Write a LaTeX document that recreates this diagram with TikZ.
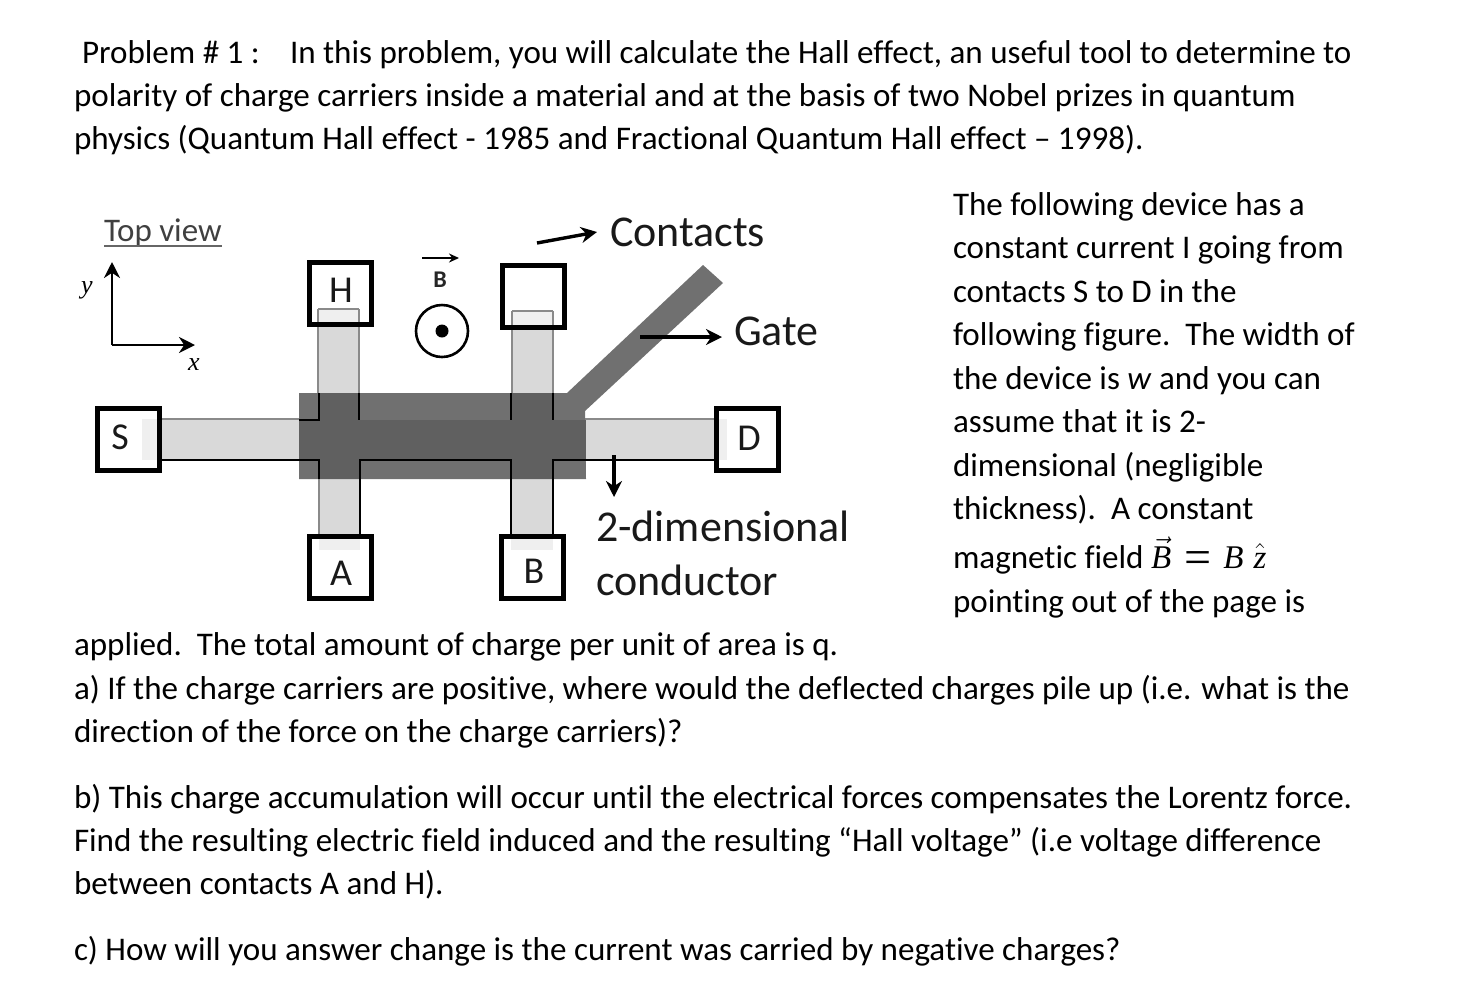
\documentclass[tikz,border=0pt]{standalone}
\usepackage{fontspec}
\setmainfont{Carlito}[Ligatures=NoCommon]
\newfontfamily\serifit{Liberation Serif}
\definecolor{armgray}{HTML}{D9D9D9}
\definecolor{fadegray}{HTML}{EFEFEF}
\definecolor{gategray}{HTML}{707070}
\definecolor{overlap}{HTML}{606060}
\definecolor{edgegray}{HTML}{8A8A8A}
\usetikzlibrary{arrows.meta}
\tikzset{
 txt/.style={anchor=base west,inner sep=0pt,outer sep=0pt,text=black,font=\fontsize{16.53}{18}\selectfont},
 fig/.style={anchor=base west,inner sep=0pt,outer sep=0pt,text=black!90},
 contact/.style={draw=black,line width=2.5pt,fill=none,minimum width=31pt,minimum height=31pt,inner sep=0pt,outer sep=0pt},
 letter/.style={inner sep=0pt,outer sep=0pt,text=black!90,font=\fontsize{19}{22}\selectfont},
 arr/.style={draw=black,line width=1.7pt,-{Stealth[length=8pt,width=8pt]}},
 edge/.style={draw=black,line width=0.7pt},
 soft/.style={draw=edgegray,line width=0.6pt}
}
\newcommand{\tl}[4]{\node[txt] (#1) at (#2,#3) {#4};}
\newcommand{\si}[1]{\mbox{\serifit\itshape #1}}
\begin{document}
\begin{tikzpicture}[x=0.5pt,y=-0.5pt]
\useasboundingbox (0,0) rectangle (1466,986);
% text
\tl{t1a}{82}{63}{Problem \# 1 :}
\tl{t1b}{290}{63}{In this problem, you will calculate the Hall effect, an useful tool to determine to}
\tl{t2}{74}{106}{polarity of charge carriers inside a material and at the basis of two Nobel prizes in quantum}
\tl{t3}{74}{149}{physics (Quantum Hall effect - 1985 and Fractional Quantum Hall effect – 1998).}
\tl{r1}{953}{215}{The following device has a}
\tl{r2}{953}{258}{constant current I going from}
\tl{r3}{953}{302}{contacts S to D in the}
\tl{r4}{953}{345}{following figure.\ \ The width of}
\tl{r5}{953}{389}{the device is \textit{w} and you can}
\tl{r6}{953}{432}{assume that it is 2-}
\tl{r7}{953}{476}{dimensional (negligible}
\tl{r8}{953}{519}{thickness).\ \ A constant}
\tl{r9}{953}{568}{magnetic field $\vec{\si{B}}$\hspace{6.5pt}\raisebox{-2.5pt}{\fontsize{24}{24}\selectfont\serifit =}\hspace{6pt}$\si{B}$\hspace{5pt}$\hat{\si{z}}$}
\tl{r10}{953}{612}{pointing out of the page is}
\tl{l1}{74}{655}{applied.\ \ The total amount of charge per unit of area is q.}
\tl{l2}{74}{699}{a) If the charge carriers are positive, where would the deflected charges pile up (i.e. what is the}
\tl{l3}{74}{742}{direction of the force on the charge carriers)?}
\tl{l4}{74}{808}{b) This charge accumulation will occur until the electrical forces compensates the Lorentz force.}
\tl{l5}{74}{851}{Find the resulting electric field induced and the resulting “Hall voltage” (i.e voltage difference}
\tl{l6}{74}{894}{between contacts A and H).}
\tl{l7}{74}{960}{c) How will you answer change is the current was carried by negative charges?}
% conductor
\fill[armgray] (142,419) rectangle (727,460);
\fill[armgray] (318,309) rectangle (359,393);
\fill[armgray] (512,311) rectangle (553,393);
\fill[armgray] (319,479) rectangle (360,550);
\fill[armgray] (511,479) rectangle (553,550);
\fill[fadegray] (142,419) rectangle (160,460);
\fill[fadegray] (715,419) rectangle (727,460);
\fill[fadegray] (318,309) rectangle (359,325);
\fill[fadegray] (512,311) rectangle (553,327);
\fill[fadegray] (319,536) rectangle (360,550);
\fill[fadegray] (511,536) rectangle (553,550);
\draw[soft] (160,419) -- (715,419);
\draw[soft] (318,309) -- (359,309) (318,309) -- (318,393) (359,309) -- (359,393);
\draw[soft] (512,311) -- (553,311) (512,311) -- (512,393) (553,311) -- (553,393);
% gate
\fill[gategray] (299,393) -- (567,393) -- (703,265) -- (723,283) -- (585,411) -- (586,479) -- (299,479) -- cycle;
\fill[overlap] (299,420) rectangle (586,460);
\fill[overlap] (319,393) rectangle (360,479);
\fill[overlap] (511,393) rectangle (553,479);
% conductor edges
\draw[edge] (160,460) -- (319,460) -- (319,479);
\draw[edge] (299,420) -- (319,420) -- (319,393);
\draw[edge] (359,393) -- (359,420);
\draw[edge] (511,393) -- (511,420);
\draw[edge] (553,393) -- (553,420);
\draw[edge] (360,534) -- (360,460) -- (511,460) -- (511,534);
\draw[edge] (553,534) -- (553,460) -- (715,460);
\draw[soft] (319,479) -- (319,534);
% contacts
\node[contact] (boxH) at (340.5,293) {};
\node[contact] (boxT) at (533,296) {};
\node[contact] (boxA) at (340.5,567) {};
\node[contact] (boxB) at (532.5,567) {};
\node[contact] (boxS) at (128,439) {};
\node[contact] (boxD) at (747.5,439.5) {};
\node[letter] (lH) at (341,290) {H};
\node[letter] (lA) at (341,573) {A};
\node[letter] (lB) at (534,571) {B};
\node[letter] (lS) at (120,437) {S};
\node[letter] (lD) at (749,438) {D};
% field
\node[draw=black,line width=1.3pt,circle,minimum size=26pt,inner sep=0pt] (field) at (442,331) {};
\fill[black] (field.center) circle (6.5);
\node[inner sep=0pt,text=black!85,font=\fontsize{12}{14}\bfseries\selectfont] (lB2) at (440,280) {B};
\coordinate (bv1) at (422,258);
\coordinate (bv2) at (459,258);
\draw[draw=black,line width=1pt,-{Stealth[length=5pt,width=4.5pt]}] (bv1) -- (bv2);
% axes
\coordinate (o) at (112,345);
\coordinate (ay) at (112,262);
\coordinate (ax) at (195,345);
\draw[arr,line width=1.4pt] (o) -- (ay);
\draw[arr,line width=1.4pt] (o) -- (ax);
\node[inner sep=0pt,font=\fontsize{13}{15}\serifit\itshape] (ly) at (87,290) {y};
\node[inner sep=0pt,font=\fontsize{13}{15}\serifit\itshape] (lx) at (194,365) {x};
% labels
\node[fig,text=black!75,font=\fontsize{16.5}{18}\selectfont] (top) at (104,241) {Top view};
\coordinate (u1) at (104,246);
\coordinate (u2) at (222,246);
\draw[draw=black!60,line width=1pt] (u1) -- (u2);
\node[fig,font=\fontsize{22}{24}\selectfont] (cont) at (610,246) {Contacts};
\node[fig,font=\fontsize{22}{24}\selectfont] (gatel) at (734,345) {Gate};
\node[fig,font=\fontsize{22}{24}\selectfont] (twod) at (596,541) {2-dimensional};
\node[fig,font=\fontsize{22}{24}\selectfont] (cond) at (596,595) {conductor};
\coordinate (c1) at (537,243);
\coordinate (c2) at (597,232);
\coordinate (g1) at (640,337);
\coordinate (g2) at (722,337);
\coordinate (d1) at (614,455);
\coordinate (d2) at (614,497);
\draw[arr] (c1) -- (c2);
\draw[arr] (g1) -- (g2);
\draw[arr] (d1) -- (d2);
\end{tikzpicture}
\end{document}
